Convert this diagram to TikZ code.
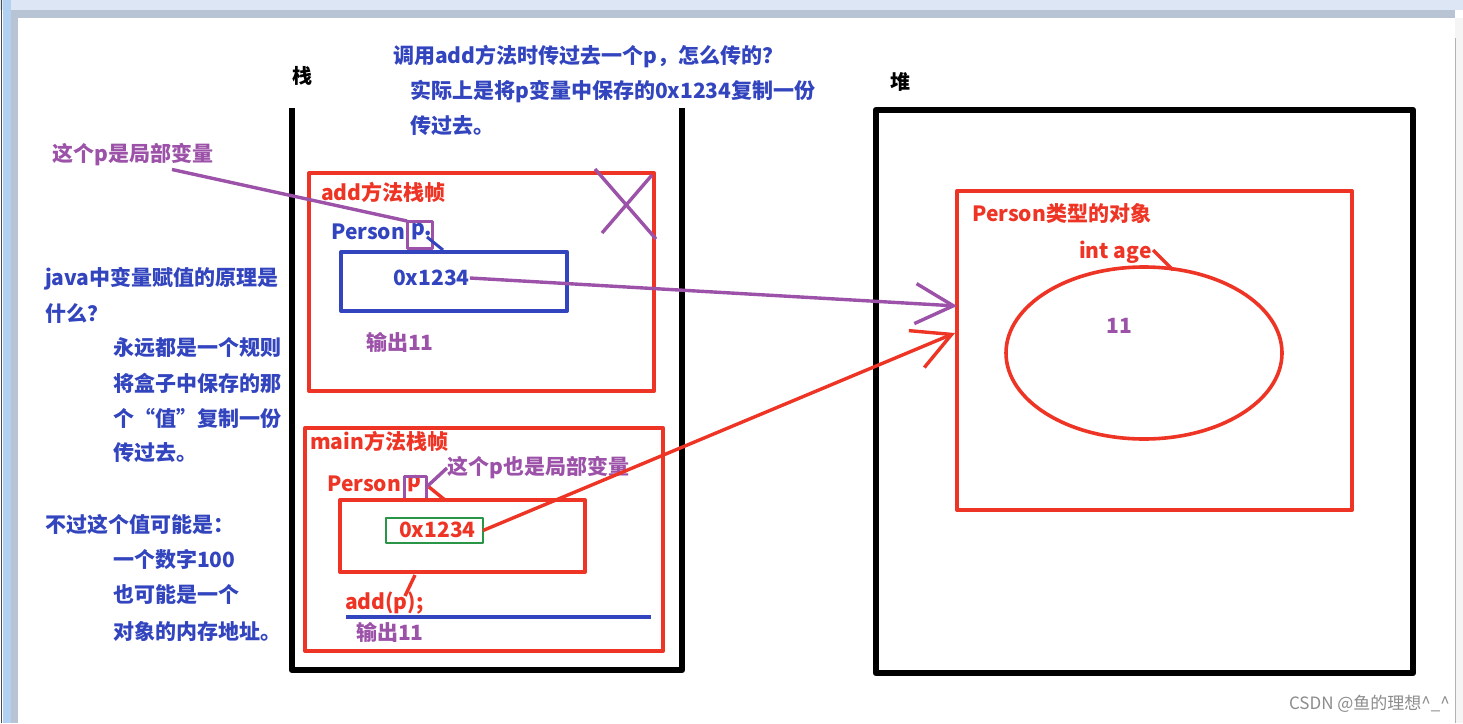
\documentclass[tikz,border=0pt]{standalone}
\usepackage{fontspec}
\setmainfont{Noto Sans CJK SC}
\usetikzlibrary{arrows.meta,calc}
\definecolor{cred}{RGB}{238,52,36}
\definecolor{cblue}{RGB}{50,68,190}
\definecolor{cpurp}{RGB}{156,82,168}
\definecolor{cgreen}{RGB}{40,150,70}
\definecolor{barblue}{RGB}{220,230,244}
\definecolor{bargray}{RGB}{184,196,212}
\definecolor{sidebl}{RGB}{178,208,240}
\newcommand\myfs[1]{\fontsize{#1}{#1}\selectfont}
\begin{document}
\begin{tikzpicture}[x=1pt,y=-1pt,line join=round,
  txt/.style={inner sep=0pt,anchor=west,font=\myfs{21}\bfseries},
  bt/.style={txt,text=cblue},
  rt/.style={txt,text=cred},
  pt/.style={txt,text=cpurp},
  kt/.style={txt,text=black,font=\myfs{20}\bfseries},
  boxn/.style={inner sep=0pt,outer sep=0pt,anchor=north west},
  frame/.style={boxn,draw=cred,line width=4pt},
  pbox/.style={boxn,draw=cpurp,line width=3pt},
  conn/.style={line width=3.4pt},
  barb/.style={-{Straight Barb[length=38pt,width=40pt,line width=3.4pt]}}
]
\useasboundingbox (0,0) rectangle (1463,723);
\fill[white] (0,0) rectangle (1463,723);
% screenshot window frame
\fill[barblue] (0,0) rectangle (1463,10);
\fill[bargray] (12,10) rectangle (1455,18);
\fill[sidebl] (3,0) rectangle (11,723);
\fill[bargray] (11,10) rectangle (18,723);
\draw[black!70,line width=1pt] (1.5,0) -- (1.5,723);
\fill[black!4] (1455,18) rectangle (1463,723);
\draw[black!30,line width=0.8pt] (1455.5,38) -- (1455.5,723);

% stack
\draw[black,line width=6.5pt] (292,108) -- (292,670) -- (682,670) -- (682,108);
\node[kt] (stk) at (292,76) {栈};
% heap
\node[boxn,draw=black,line width=6.5pt,minimum width=537pt,minimum height=563pt] (heap) at (876,110) {};
\node[kt] (hp) at (890,82) {堆};

% top note
\node[bt] (n1) at (393,57) {调用add方法时传过去一个p，怎么传的？};
\node[bt] (n2) at (410,92) {实际上是将p变量中保存的0x1234复制一份};
\node[bt] (n3) at (410,126) {传过去。};

% left notes
\node[pt] (lv1) at (52,155) {这个p是局部变量};
\node[bt] (l1) at (45,279) {java中变量赋值的原理是};
\node[bt] (l2) at (45,314) {什么？};
\node[bt] (l3) at (113,348) {永远都是一个规则};
\node[bt] (l4) at (113,383) {将盒子中保存的那};
\node[bt] (l5) at (113,418) {个“值”复制一份};
\node[bt] (l6) at (113,453) {传过去。};
\node[bt] (l7) at (45,524) {不过这个值可能是：};
\node[bt] (l8) at (113,559) {一个数字100};
\node[bt] (l9) at (113,594) {也可能是一个};
\node[bt] (l10) at (113,631) {对象的内存地址。};

% add frame
\node[frame,minimum width=345pt,minimum height=218pt] (addf) at (309,173) {};
\node[rt] (addt) at (321,192) {add方法栈帧};
\draw[cpurp,line width=3.4pt] (595,169) -- (656,239);
\draw[cpurp,line width=3.4pt] (652,175) -- (602,233);
\node[bt] (addp) at (331,232) {Person};
\node[bt] (addpp) at (411,232) {p.};
\node[pbox,minimum width=25pt,minimum height=27pt] (addpb) at (407,221) {};
\node[boxn,draw=cblue,line width=4pt,minimum width=226pt,minimum height=59pt] (addbox) at (341,252) {};
\draw[cblue,line width=3pt] (427,237) -- (443,250);
\node[bt] (addv) at (393,278) {0x1234};
\node[pt] (addo) at (366,342) {输出11};

% main frame
\node[frame,minimum width=358pt,minimum height=223pt] (mainf) at (305,428) {};
\node[rt] (maint) at (310,441) {main方法栈帧};
\node[rt] (mainp) at (327,484) {Person};
\node[rt] (mainpp) at (407,484) {p};
\node[pbox,minimum width=22pt,minimum height=23pt] (mainpb) at (404,476) {};
\node[pt] (lv2) at (447,468) {这个p也是局部变量};
\draw[cpurp,line width=3.4pt] (mainpb.east) -- (lv2.west);
\node[boxn,draw=cred,line width=4pt,minimum width=245pt,minimum height=72pt] (mainbox) at (340,500) {};
\draw[cred,line width=3.4pt] (429,487) -- (445,500);
\node[boxn,draw=cgreen,line width=1.5pt,minimum width=97pt,minimum height=25pt] (mainvb) at (386,518) {};
\node[rt] (mainv) at (399,530) {0x1234};
\coordinate (callpt) at (405,596);
\draw[cred,line width=3.4pt] (415,575) -- (callpt);
\node[rt] (call) at (345,603) {add(p);};
\draw[cblue,line width=3.4pt] (346,617) -- (651,617);
\node[pt] (maino) at (356,632) {输出11};

% object in heap
\node[frame,minimum width=395pt,minimum height=319pt] (obj) at (957,191) {};
\node[rt] (objt) at (972,213) {Person类型的对象};
\node[rt] (age) at (1079,252) {int age};
\draw[cred,line width=3.4pt] (1153,250) -- (1173,270);
\draw[cred,line width=3.6pt] (1144,353) ellipse [x radius=138, y radius=86];
\node[pt] (agev) at (1106,326) {11};

% connectors
\coordinate (tipA) at ($(obj.north west)+(0,115)$);
\coordinate (tipB) at ($(obj.north west)+(-2,142)$);
\draw[cpurp,line width=3.4pt] ($(lv1.south west)+(120,3)$) -- (addpb.north west);
\draw[cpurp,conn,barb] (addv.east) -- (tipA);
\draw[cred,conn,barb] (mainvb.east) -- (tipB);

% watermark
\node[inner sep=0pt,anchor=east,font=\myfs{17},text=black!45] (wm) at (1450,704) {CSDN @鱼的理想\^{}\_\^{}};
\end{tikzpicture}
\end{document}
